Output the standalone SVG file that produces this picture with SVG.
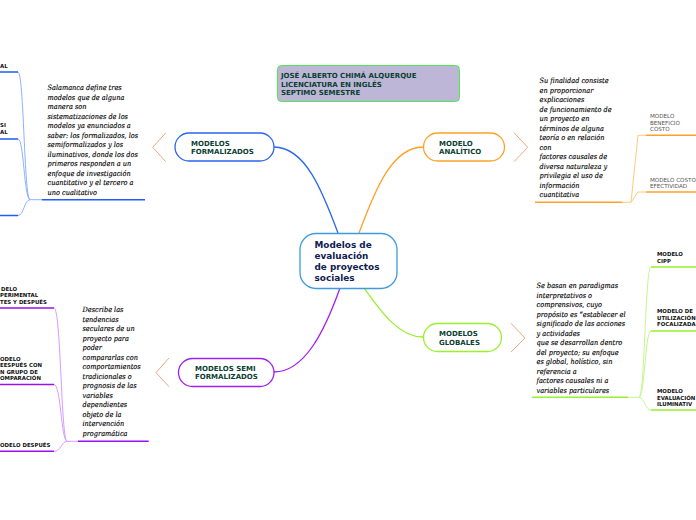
<svg xmlns="http://www.w3.org/2000/svg" width="696" height="520" viewBox="0 0 696 520">
<style>
.l{font-family:"DejaVu Sans",sans-serif;font-weight:700;font-size:7px;fill:#0a4030}
.s{font-family:"DejaVu Sans",sans-serif;font-weight:700;font-size:5.4px;fill:#111}
.g{font-family:"DejaVu Sans",sans-serif;font-size:5.6px;fill:#555}
.d{font-family:"DejaVu Serif Condensed","DejaVu Serif",serif;font-style:italic;font-size:7.3px;fill:#000;stroke:#000;stroke-width:.12}
.c{font-family:"DejaVu Sans",sans-serif;font-weight:700;font-size:8.9px;fill:#10204f}
.n{fill:#fff;stroke-width:1.3}
.f{fill:none}
.ch{fill:none;stroke:#eda581;stroke-width:1}
</style>
<rect width="696" height="520" fill="#fff"/>
<g id="connectors" class="f">
<path d="M338 233C322 190 305 147 274 147" stroke="#2a66ee" stroke-width="1.3"/>
<path d="M359 233C375 190 392 147 423 147" stroke="#ffa126" stroke-width="1.3"/>
<path d="M340 288C325 330 305 372 274 372" stroke="#a020f0" stroke-width="1.3"/>
<path d="M364 288C380 310 398 337 423 337" stroke="#9af02e" stroke-width="1.3"/>
<g stroke="#1f5cf5" stroke-width="1.6"><path d="M42 199.7H145M0 72H18M0 139H18M0 215.5H18"/></g>
<g stroke="#8fb0ff" stroke-width="1"><path d="M42 199.7H30C24 199 24 72 18 72M30 199.7C24 199 24 139 18 139M30 199.7C24 200 24 215.5 18 215.5"/></g>
<g stroke="#9a10f0" stroke-width="1.6"><path d="M78 441.3H148.7M0 308H54M0 384.5H54M0 451.3H54"/></g>
<g stroke="#d49cff" stroke-width="1"><path d="M78 441.3H67C61 440 61 308 54 308M67 441.3C61 440 61 384.5 54 384.5M67 441.3C61 442 61 451.3 54 451.3"/></g>
<g stroke="#ffa126" stroke-width="1.6"><path d="M535 202.3H622M646 135.3H696M646 192H696"/></g>
<g stroke="#ffc880" stroke-width="1"><path d="M622 202.3H631L638 135.3H646M631 202.3L638 192H646"/></g>
<g stroke="#9af02e" stroke-width="1.6"><path d="M532 397.3H628M651 267H696M651 331H696M651 410H696"/></g>
<g stroke="#c5f58f" stroke-width="1"><path d="M628 397.3H639C645 396 645 267 651 267M639 397.3C645 396 645 331 651 331M639 397.3C645 398 645 410 651 410"/></g>
<path class="ch" d="M165.7 133L152.7 147.3L165.7 161.7"/>
<path class="ch" d="M169 358L156 372.7L169 386.7"/>
<path class="ch" d="M514 132.7L527.7 147.3L514 161.7"/>
<path class="ch" d="M511 323.3L525 338L511 352"/>
</g>
<g id="title"><rect x="277.5" y="65.5" width="182" height="36" rx="4" fill="#bdb6d6" stroke="#4fe84f" stroke-width="1"/>
<text class="l" x="281" y="78">JOSÉ ALBERTO CHIMÁ ALQUERQUE</text><text class="l" x="281" y="86.5">LICENCIATURA EN INGLÉS</text><text class="l" x="281" y="95">SEPTIMO SEMESTRE</text></g>
<g id="center"><rect x="300" y="233.5" width="97" height="55" rx="16" class="n" stroke="#3d9ade"/>
<text class="c" x="314.5" y="248">Modelos de</text><text class="c" x="314.5" y="259">evaluación</text><text class="c" x="314.5" y="270">de proyectos</text><text class="c" x="314.5" y="281">sociales</text></g>
<g id="formalizados"><rect x="175" y="133" width="99" height="28" rx="14" class="n" stroke="#2a66ee"/>
<text class="l" x="191" y="145.5">MODELOS</text><text class="l" x="191" y="154">FORMALIZADOS</text></g>
<g id="analitico"><rect x="423.5" y="133" width="81" height="28" rx="14" class="n" stroke="#ffa126"/>
<text class="l" x="439" y="146">MODELO</text><text class="l" x="439" y="154">ANALÍTICO</text></g>
<g id="semi"><rect x="178.5" y="358.5" width="95.5" height="28" rx="14" class="n" stroke="#a020f0"/>
<text class="l" x="195" y="371">MODELOS SEMI</text><text class="l" x="195" y="379">FORMALIZADOS</text></g>
<g id="globales"><rect x="423.5" y="323.5" width="78" height="28" rx="14" class="n" stroke="#9af02e"/>
<text class="l" x="439" y="336">MODELOS</text><text class="l" x="439" y="345">GLOBALES</text></g>
<g id="desc-formalizados"><text class="d" x="47.5" y="90">Salamanca define tres</text><text class="d" x="47.5" y="99.5">modelos que de alguna</text><text class="d" x="47.5" y="109">manera son</text><text class="d" x="47.5" y="118.5">sistematizaciones de los</text><text class="d" x="47.5" y="128">modelos ya enunciados a</text><text class="d" x="47.5" y="137.5">saber: los formalizados, los</text><text class="d" x="47.5" y="147">semiformalizados y los</text><text class="d" x="47.5" y="156.5">iluminativos, donde los dos</text><text class="d" x="47.5" y="166">primeros responden a un</text><text class="d" x="47.5" y="175.5">enfoque de investigación</text><text class="d" x="47.5" y="185">cuantitativo y el tercero a</text><text class="d" x="47.5" y="194.5">uno cualitativo</text></g>
<g id="desc-semi"><text class="d" x="82.5" y="312">Describe las</text><text class="d" x="82.5" y="321.5">tendencias</text><text class="d" x="82.5" y="331">seculares de un</text><text class="d" x="82.5" y="340.5">proyecto para</text><text class="d" x="82.5" y="350">poder</text><text class="d" x="82.5" y="359.5">compararlas con</text><text class="d" x="82.5" y="369">comportamientos</text><text class="d" x="82.5" y="378.5">tradicionales o</text><text class="d" x="82.5" y="388">prognosis de las</text><text class="d" x="82.5" y="397.5">variables</text><text class="d" x="82.5" y="407">dependientes</text><text class="d" x="82.5" y="416.5">objeto de la</text><text class="d" x="82.5" y="426">intervención</text><text class="d" x="82.5" y="435.5">programática</text></g>
<g id="desc-analitico"><text class="d" x="539.5" y="83">Su finalidad consiste</text><text class="d" x="539.5" y="92.5">en proporcionar</text><text class="d" x="539.5" y="102">explicaciones</text><text class="d" x="539.5" y="111.5">de funcionamiento de</text><text class="d" x="539.5" y="121">un proyecto en</text><text class="d" x="539.5" y="130.5">términos de alguna</text><text class="d" x="539.5" y="140">teoría o en relación</text><text class="d" x="539.5" y="149.5">con</text><text class="d" x="539.5" y="159">factores causales de</text><text class="d" x="539.5" y="168.5">diversa naturaleza y</text><text class="d" x="539.5" y="178">privilegia el uso de</text><text class="d" x="539.5" y="187.5">información</text><text class="d" x="539.5" y="197">cuantitativa</text></g>
<g id="desc-globales"><text class="d" x="536.5" y="288">Se basan en paradigmas</text><text class="d" x="536.5" y="297.5">interpretativos o</text><text class="d" x="536.5" y="307">comprensivos, cuyo</text><text class="d" x="536.5" y="316.5">propósito es “establecer el</text><text class="d" x="536.5" y="326">significado de las acciones</text><text class="d" x="536.5" y="335.5">y actividades</text><text class="d" x="536.5" y="345">que se desarrollan dentro</text><text class="d" x="536.5" y="354.5">del proyecto; su enfoque</text><text class="d" x="536.5" y="364">es global, holístico, sin</text><text class="d" x="536.5" y="373.5">referencia a</text><text class="d" x="536.5" y="383">factores causales ni a</text><text class="d" x="536.5" y="392.5">variables particulares</text></g>
<g id="l1"><text class="s" x="0" y="68">AL</text></g>
<g id="l2"><text class="s" x="0" y="127">SI</text><text class="s" x="0" y="134">AL</text></g>
<g id="p1"><text class="s" x="1" y="291">DELO</text><text class="s" x="0" y="297">PERIMENTAL</text><text class="s" x="0" y="304">TES Y DESPUÉS</text></g>
<g id="p2"><text class="s" x="0" y="361">ODELO</text><text class="s" x="0" y="367">EESPUÉS CON</text><text class="s" x="0" y="374">N GRUPO DE</text><text class="s" x="0" y="380">OMPARACIÓN</text></g>
<g id="p3"><text class="s" x="0" y="447">ODELO DESPUÉS</text></g>
<g id="o1"><text class="g" x="650" y="118">MODELO</text><text class="g" x="650" y="125">BENEFICIO</text><text class="g" x="650" y="131">COSTO</text></g>
<g id="o2"><text class="g" x="650" y="182">MODELO COSTO</text><text class="g" x="650" y="188">EFECTIVIDAD</text></g>
<g id="v1"><text class="s" x="657" y="256">MODELO</text><text class="s" x="657" y="263">CIPP</text></g>
<g id="v2"><text class="s" x="657" y="313">MODELO DE</text><text class="s" x="657" y="320">UTILIZACIÓN</text><text class="s" x="657" y="326">FOCALIZADA</text></g>
<g id="v3"><text class="s" x="657" y="393">MODELO</text><text class="s" x="657" y="400">EVALUACIÓN</text><text class="s" x="657" y="406">ILUMINATIV</text></g>
</svg>
